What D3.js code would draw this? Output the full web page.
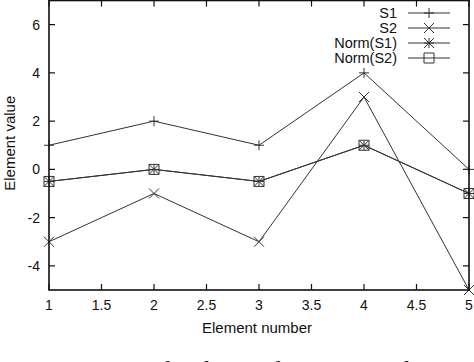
<!DOCTYPE html>
<html><head><meta charset="utf-8">
<script src="https://cdn.jsdelivr.net/npm/d3@7"></script>
<style>html,body{margin:0;padding:0;background:#fff;overflow:hidden}</style>
</head><body>
<svg id="c" width="474" height="362"></svg>
<script>
const xValues = [1, 2, 3, 4, 5];
const s1 = [1, 2, 1, 4, 0];
const s2 = [-3, -1, -3, 3, -5];
const normS1 = [-0.5, 0, -0.5, 1, -1];
const normS2 = [-0.5, 0, -0.5, 1, -1];
const seriesNames = ["S1", "S2", "Norm(S1)", "Norm(S2)"];
const seriesMarkers = ["plus", "cross", "star", "square"];
const xTicks = [1, 1.5, 2, 2.5, 3, 3.5, 4, 4.5, 5];
const yTicks = [-4, -2, 0, 2, 4, 6];
const xLabel = "Element number";
const yLabel = "Element value";
const caption = "Fig.1. Example of normalization transformation";

const allSeries = [s1, s2, normS1, normS2];
const svg = d3.select("#c");
const L = 49, R = 469, T = 0.5, B = 290;
const x = d3.scaleLinear().domain([1, 5]).range([L, R]);
const y = d3.scaleLinear().domain([-5, 7]).range([B, T]);
const font = "'Liberation Sans', Arial, sans-serif";
const ink = "#111";
const lineCol = "#333";

// ticks (inward, mirrored)
const tl = 6;
const tg = svg.append("g").attr("stroke", ink).attr("stroke-width", 1.2);
xTicks.forEach(t => {
  tg.append("line").attr("x1", x(t)).attr("x2", x(t)).attr("y1", B).attr("y2", B - tl);
  tg.append("line").attr("x1", x(t)).attr("x2", x(t)).attr("y1", T).attr("y2", T + tl);
});
yTicks.forEach(t => {
  tg.append("line").attr("x1", L).attr("x2", L + tl).attr("y1", y(t)).attr("y2", y(t));
  tg.append("line").attr("x1", R).attr("x2", R - tl).attr("y1", y(t)).attr("y2", y(t));
});

// tick labels
svg.append("g").selectAll("text").data(xTicks).join("text")
  .attr("x", d => x(d)).attr("y", 310)
  .attr("text-anchor", "middle")
  .attr("font-family", font).attr("font-size", 14).attr("fill", ink)
  .text(d => d);
svg.append("g").selectAll("text").data(yTicks).join("text")
  .attr("x", 40).attr("y", d => y(d) + 5)
  .attr("text-anchor", "end")
  .attr("font-family", font).attr("font-size", 14).attr("fill", ink)
  .text(d => d);

// axis labels
svg.append("text").attr("x", (L + R) / 2 - 2).attr("y", 333)
  .attr("text-anchor", "middle").attr("font-family", font).attr("font-size", 15).attr("fill", ink)
  .text(xLabel);
svg.append("text").attr("transform", `translate(15,${(T + B) / 2 - 2}) rotate(-90)`)
  .attr("text-anchor", "middle").attr("font-family", font).attr("font-size", 15).attr("fill", ink)
  .text(yLabel);

// caption (only its top shows inside the window, as in the reference)
svg.append("text").attr("x", 35).attr("y", 376.5)
  .attr("font-family", "'Liberation Serif', 'Times New Roman', serif").attr("font-size", 24).attr("fill", ink)
  .text(caption);

// marker drawing
function marker(g, type, cx, cy) {
  const s = 5;
  const p = g.append("path").attr("fill", "none").attr("stroke", lineCol).attr("stroke-width", 1);
  let d = "";
  if (type === "plus" || type === "star") d += `M${cx - s},${cy}H${cx + s}M${cx},${cy - s}V${cy + s}`;
  if (type === "cross" || type === "star") d += `M${cx - s},${cy - s}L${cx + s},${cy + s}M${cx - s},${cy + s}L${cx + s},${cy - s}`;
  if (type === "square") d += `M${cx - s},${cy - s}h${2 * s}v${2 * s}h${-2 * s}Z`;
  p.attr("d", d);
}

// lines
const line = d3.line().x((d, i) => x(xValues[i])).y(d => y(d));
allSeries.forEach((vals, k) => {
  const g = svg.append("g");
  g.append("path").datum(vals).attr("d", line)
    .attr("fill", "none").attr("stroke", lineCol).attr("stroke-width", 1);
  vals.forEach((v, i) => marker(g, seriesMarkers[k], x(xValues[i]), y(v)));
});

// legend
seriesNames.forEach((n, k) => {
  const ly = 13 + k * 15;
  svg.append("text").attr("x", 397).attr("y", ly + 5).attr("text-anchor", "end")
    .attr("font-family", font).attr("font-size", 14.5).attr("fill", ink).text(n);
  svg.append("line").attr("x1", 408).attr("x2", 450).attr("y1", ly).attr("y2", ly)
    .attr("stroke", lineCol).attr("stroke-width", 1);
  marker(svg, seriesMarkers[k], 429, ly);
});

// border
svg.append("rect").attr("x", L).attr("y", T).attr("width", R - L).attr("height", B - T)
  .attr("fill", "none").attr("stroke", ink).attr("stroke-width", 1.6);
</script>
</body></html>
